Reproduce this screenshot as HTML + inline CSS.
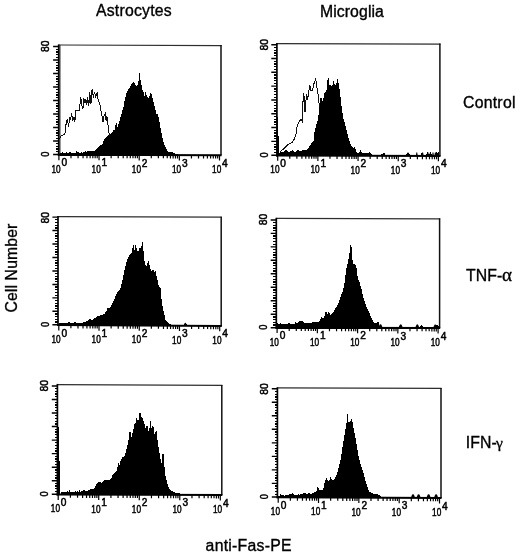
<!DOCTYPE html>
<html lang="en"><head><meta charset="utf-8"><title>Fas expression histograms</title>
<style>html,body{margin:0;padding:0;background:#fff}body{width:520px;height:555px;overflow:hidden}svg{display:block}</style>
</head><body>
<svg width="520" height="555" viewBox="0 0 520 555" font-family='"Liberation Sans", Arial, Helvetica, sans-serif' fill="#111">
<rect width="520" height="555" fill="#fff"/>
<path d="M60.0,155.6L60.0,152.8L64.0,153.0L68.0,152.5L72.0,153.2L76.0,152.6L80.0,153.0L84.0,152.4L85.0,151.9L89.3,151.2L94.7,150.6L98.0,148.1L99.6,145.4L102.3,144.3L103.9,140.0L106.6,137.3L108.2,135.1L110.9,133.5L113.1,130.8L115.3,129.2L115.6,123.2L116.5,123.2L116.7,128.1L118.0,125.9L119.6,120.5L121.8,113.0L123.9,105.4L124.4,101.2L126.2,93.8L128.1,89.4L130.6,86.2L132.5,82.5L133.8,81.9L135.0,84.4L136.9,86.9L138.1,82.5L139.0,78.8L139.5,72.5L140.2,78.8L141.2,83.8L142.2,88.8L143.5,91.9L144.4,96.2L145.6,91.9L146.9,96.2L148.8,97.8L150.2,93.8L151.2,91.9L151.9,95.6L153.1,100.0L154.4,105.0L155.6,110.6L156.9,115.0L157.8,113.1L158.8,118.8L160.0,125.0L161.0,130.5L162.7,139.3L164.5,144.7L166.4,149.2L168.2,151.9L172.7,152.3L175.4,153.7L178.0,154.0L178.0,155.6Z" fill="#000" stroke="none" stroke-width="0" stroke-linejoin="miter" shape-rendering="crispEdges"/>
<path d="M59.9,138.6L60.3,136.6L64.3,134.2L65.6,131.5L65.9,125.0L67.3,118.8L68.6,126.8L69.8,116.7L70.7,119.9L71.5,113.0L72.8,121.0L73.9,116.7L74.9,122.0L75.6,110.9L79.7,110.7L80.0,104.0L80.7,96.6L81.8,105.1L83.0,108.5L83.9,98.2L85.1,103.0L85.9,98.8L86.8,105.3L87.6,97.2L88.8,106.4L89.7,92.4L90.9,104.0L92.1,88.7L93.4,97.7L94.5,91.9L95.7,96.6L97.1,92.4L98.2,99.8L99.8,104.0L100.8,110.4L101.9,115.7L103.0,122.2L104.1,115.7L105.2,113.6L106.1,121.0L106.9,116.2L107.7,122.0L108.6,129.4L109.4,136.0" fill="none" stroke="#111" stroke-width="1.0" stroke-linejoin="miter" shape-rendering="crispEdges"/>
<path d="M59.95,45V154" stroke="#000" stroke-width="0.9" fill="none"/>
<path d="M277.0,156.2L277.0,155.0L277.0,117.0L278.0,117.0L278.9,150.0L278.9,155.0L278.9,156.2Z" fill="#000" stroke="none" stroke-width="0" stroke-linejoin="miter" shape-rendering="crispEdges"/>
<path d="M279.2,156.2L279.2,153.0L280.5,151.4L282.0,151.8L283.0,152.8L284.5,151.0L286.0,149.8L287.5,150.6L289.0,152.0L290.5,151.2L292.0,150.2L293.5,150.8L295.0,152.0L296.5,150.6L298.0,149.6L299.5,150.8L301.0,151.6L302.5,150.2L304.0,149.4L305.5,150.4L307.0,149.6L308.2,148.6L310.9,144.3L313.6,140.7L314.5,131.7L316.4,124.5L318.2,119.1L319.0,108.2L320.0,99.2L321.2,97.4L322.3,101.0L323.6,98.3L324.8,92.0L326.3,91.1L327.2,84.8L327.6,78.0L328.5,78.0L329.2,84.8L330.2,83.9L331.3,86.6L332.6,84.8L333.6,80.3L335.0,85.7L336.4,83.9L337.8,78.2L339.1,86.6L340.3,95.0L341.6,107.0L343.4,119.1L345.2,124.5L347.0,131.7L348.8,138.9L350.6,144.3L353.3,147.9L355.1,146.1L356.0,151.5L358.7,153.3L360.5,149.7L362.3,153.3L365.0,152.4L368.0,153.3L370.0,152.2L373.0,155.3L380.0,155.3L384.0,152.6L386.0,155.3L406.0,155.3L408.0,152.0L410.0,155.3L420.0,155.3L422.0,152.2L424.0,155.3L426.0,155.3L427.5,152.0L429.0,155.3L430.5,152.2L432.0,155.3L434.5,155.3L436.0,151.8L437.5,153.0L438.5,151.8L439.5,155.3L439.5,156.2Z" fill="#000" stroke="none" stroke-width="0" stroke-linejoin="miter" shape-rendering="crispEdges"/>
<path d="M280.3,151.5L284.8,147.9L288.4,144.3L292.5,142.0L294.6,138.6L296.0,134.0L297.2,125.5L299.8,120.8L301.2,119.5L302.2,121.3L302.7,114.4L303.0,101.7L303.7,92.7L304.6,101.7L305.0,111.8L305.6,102.8L306.7,94.1L307.5,99.8L308.6,92.7L309.8,84.8L310.7,90.6L312.5,90.3L313.9,83.8L315.7,79.3L316.7,85.9L317.8,92.2L318.8,100.7L319.4,107.0" fill="none" stroke="#111" stroke-width="1.0" stroke-linejoin="miter" shape-rendering="crispEdges"/>
<path d="M58.6,325.8L58.6,321.0L60.0,323.5L64.0,323.3L68.5,322.3L71.0,323.0L74.8,322.3L78.4,322.8L82.0,322.6L85.6,322.3L90.1,318.3L91.9,320.1L97.3,316.5L100.0,315.6L104.5,313.8L106.4,311.1L107.8,306.6L109.0,309.3L111.8,304.8L113.6,301.2L115.4,296.7L117.4,291.8L120.2,289.0L122.0,282.0L123.7,274.0L125.5,266.0L127.3,259.2L129.0,256.0L131.8,252.2L133.3,244.4L134.5,249.8L135.7,244.4L137.0,250.7L138.4,251.6L139.9,247.1L141.1,248.0L142.6,241.7L143.8,253.4L144.7,262.4L146.0,266.9L147.4,263.3L148.5,260.6L149.6,265.1L151.0,270.5L151.9,271.4L153.2,268.7L154.3,272.3L155.5,271.4L156.8,276.8L158.2,282.3L159.1,289.5L160.0,283.2L160.9,291.3L161.8,302.1L163.6,311.1L165.5,320.1L168.2,322.8L171.8,324.8L183.5,324.8L185.3,322.6L187.0,324.8L187.0,325.8Z" fill="#000" stroke="none" stroke-width="0" stroke-linejoin="miter" shape-rendering="crispEdges"/>
<path d="M277.2,328.5L277.2,323.3L280.0,324.4L284.0,323.8L288.0,324.5L292.0,324.0L297.0,323.3L299.7,321.1L302.4,320.6L304.2,323.3L308.7,322.9L313.2,322.4L319.5,321.5L321.4,317.0L323.2,318.8L325.0,314.3L325.9,310.7L327.3,314.3L328.6,311.6L330.4,315.2L333.0,313.0L334.9,309.4L337.6,305.3L339.4,300.4L341.2,294.5L343.0,290.9L344.6,283.0L345.9,271.0L347.5,263.8L349.3,254.8L350.2,245.0L351.4,245.0L352.0,254.8L352.9,263.8L355.2,264.5L356.3,266.0L356.6,269.2L357.8,278.2L359.6,282.7L361.5,289.1L363.4,298.1L365.2,303.5L366.4,307.1L368.2,310.7L370.0,314.3L371.8,318.8L373.6,322.4L376.4,323.3L378.2,321.5L380.0,327.2L386.3,327.2L393.5,327.2L399.0,327.2L400.7,324.6L402.5,327.2L420.0,327.2L421.5,324.8L423.0,327.2L435.0,327.2L437.0,324.4L439.0,327.2L439.0,328.5Z" fill="#000" stroke="none" stroke-width="0" stroke-linejoin="miter" shape-rendering="crispEdges"/>
<path d="M57.4,495.3L57.4,494.0L57.4,427.0L58.9,427.0L58.9,461.0L60.1,461.0L60.1,494.0L60.1,495.3Z" fill="#000" stroke="none" stroke-width="0" stroke-linejoin="miter" shape-rendering="crispEdges"/>
<path d="M60.5,495.3L60.5,491.9L65.0,492.3L70.0,491.7L75.0,492.2L80.0,491.8L83.8,490.1L87.4,491.0L91.0,489.2L94.6,488.3L96.4,483.8L99.1,482.0L101.8,482.9L104.5,480.2L109.0,480.2L111.8,477.5L112.7,473.9L115.4,472.6L116.8,470.0L117.5,467.5L117.8,463.1L119.0,463.1L119.4,465.0L120.6,461.2L122.5,457.5L124.4,456.2L125.6,452.5L126.9,447.5L128.1,442.5L129.0,436.2L129.4,431.9L130.6,432.5L131.5,436.9L132.5,433.1L133.8,427.5L134.4,423.8L135.6,422.5L136.1,418.1L137.2,418.1L137.8,422.5L138.8,418.8L139.5,412.5L140.8,412.5L141.2,417.5L142.2,416.2L143.1,420.0L144.4,423.8L145.6,428.8L146.2,426.2L147.5,426.2L147.9,431.2L149.4,430.0L149.8,421.2L151.0,421.2L151.2,428.8L152.5,426.2L153.5,426.9L154.0,433.8L155.2,435.0L155.6,430.6L156.8,430.6L157.2,437.5L158.1,445.0L159.4,452.5L160.6,460.0L161.9,463.8L162.2,453.8L163.8,453.8L164.0,463.8L165.0,470.0L165.5,475.7L167.3,482.9L169.0,488.3L171.8,491.0L175.4,492.8L180.0,493.0L180.0,495.3Z" fill="#000" stroke="none" stroke-width="0" stroke-linejoin="miter" shape-rendering="crispEdges"/>
<path d="M278.0,498.1L278.0,496.0L281.0,495.6L282.6,494.5L284.5,495.6L288.0,495.1L292.5,493.3L295.2,495.1L302.4,494.2L305.1,492.4L306.9,494.2L308.7,492.4L311.4,494.2L314.1,492.4L316.5,491.5L317.7,486.4L319.5,489.7L323.2,489.7L325.0,480.7L326.4,478.2L328.3,480.7L329.6,479.6L330.3,476.2L332.0,480.7L334.9,478.9L336.7,474.4L338.5,468.1L340.3,460.9L342.1,450.0L343.9,439.2L345.7,428.4L346.0,423.5L346.8,422.0L346.9,414.0L348.0,414.0L348.3,421.5L349.6,422.0L350.8,420.5L351.0,418.6L352.2,418.6L352.6,423.0L353.3,426.6L354.7,433.8L356.5,443.7L358.3,455.5L360.1,462.7L361.9,468.1L363.7,473.5L365.5,480.7L367.3,486.1L369.1,491.5L371.8,493.3L377.3,494.2L382.7,497.2L411.5,497.2L413.0,494.4L414.5,497.2L417.0,497.2L418.6,494.4L420.2,497.2L427.4,497.2L428.9,494.4L430.4,497.2L434.4,497.2L435.9,494.4L437.4,497.2L437.4,498.1Z" fill="#000" stroke="none" stroke-width="0" stroke-linejoin="miter" shape-rendering="crispEdges"/>
<path d="M61,153h1V155.5h-1zM62,152h1V155.5h-1zM63,153h1V155.5h-1zM64,153h1V155.5h-1zM65,153h1V155.5h-1zM66,152h1V155.5h-1zM67,153h1V155.5h-1zM68,153h1V155.5h-1zM69,152h1V155.5h-1zM70,152h1V155.5h-1zM71,153h1V155.5h-1zM72,153h1V155.5h-1zM73,153h1V155.5h-1zM74,153h1V155.5h-1zM75,153h1V155.5h-1zM76,151h1V155.5h-1zM77,152h1V155.5h-1zM78,152h1V155.5h-1zM79,153h1V155.5h-1zM80,153h1V155.5h-1zM81,152h1V155.5h-1zM82,153h1V155.5h-1zM83,152h1V155.5h-1zM84,153h1V155.5h-1zM85,151h1V155.5h-1zM86,152h1V155.5h-1zM87,151h1V155.5h-1zM88,153h1V155.5h-1zM89,152h1V155.5h-1zM90,151h1V155.5h-1zM91,153h1V155.5h-1zM92,153h1V155.5h-1zM93,153h1V155.5h-1zM94,153h1V155.5h-1zM95,152h1V155.5h-1z" fill="#000" shape-rendering="crispEdges"/>
<path d="M60,323h1V325.8h-1zM61,324h1V325.8h-1zM62,324h1V325.8h-1zM63,323h1V325.8h-1zM64,324h1V325.8h-1zM65,324h1V325.8h-1zM66,324h1V325.8h-1zM67,324h1V325.8h-1zM68,322h1V325.8h-1zM69,322h1V325.8h-1zM70,323h1V325.8h-1zM71,324h1V325.8h-1zM72,324h1V325.8h-1zM73,323h1V325.8h-1zM74,323h1V325.8h-1zM75,323h1V325.8h-1zM76,324h1V325.8h-1zM77,324h1V325.8h-1zM78,324h1V325.8h-1zM79,323h1V325.8h-1zM80,323h1V325.8h-1zM81,323h1V325.8h-1zM82,324h1V325.8h-1zM83,322h1V325.8h-1zM84,324h1V325.8h-1zM85,324h1V325.8h-1zM86,324h1V325.8h-1zM87,323h1V325.8h-1zM88,322h1V325.8h-1zM89,323h1V325.8h-1z" fill="#000" shape-rendering="crispEdges"/>
<path d="M278,325h1V328.4h-1zM279,324h1V328.4h-1zM280,323h1V328.4h-1zM281,325h1V328.4h-1zM282,325h1V328.4h-1zM283,324h1V328.4h-1zM284,324h1V328.4h-1zM285,325h1V328.4h-1zM286,325h1V328.4h-1zM287,324h1V328.4h-1zM288,323h1V328.4h-1zM289,323h1V328.4h-1zM290,324h1V328.4h-1zM291,324h1V328.4h-1zM292,325h1V328.4h-1zM293,325h1V328.4h-1zM294,325h1V328.4h-1zM295,322h1V328.4h-1zM296,324h1V328.4h-1zM297,324h1V328.4h-1zM298,323h1V328.4h-1zM299,325h1V328.4h-1zM300,324h1V328.4h-1zM301,324h1V328.4h-1zM302,325h1V328.4h-1zM303,324h1V328.4h-1zM304,324h1V328.4h-1zM305,325h1V328.4h-1zM306,323h1V328.4h-1zM307,325h1V328.4h-1zM308,324h1V328.4h-1zM309,324h1V328.4h-1zM310,323h1V328.4h-1zM311,325h1V328.4h-1zM312,324h1V328.4h-1zM313,325h1V328.4h-1zM314,325h1V328.4h-1zM315,322h1V328.4h-1zM316,323h1V328.4h-1zM317,324h1V328.4h-1zM318,325h1V328.4h-1zM319,324h1V328.4h-1zM320,323h1V328.4h-1z" fill="#000" shape-rendering="crispEdges"/>
<path d="M61,492h1V495.2h-1zM62,492h1V495.2h-1zM63,493h1V495.2h-1zM64,493h1V495.2h-1zM65,493h1V495.2h-1zM66,493h1V495.2h-1zM67,491h1V495.2h-1zM68,493h1V495.2h-1zM69,490h1V495.2h-1zM70,493h1V495.2h-1zM71,493h1V495.2h-1zM72,493h1V495.2h-1zM73,493h1V495.2h-1zM74,492h1V495.2h-1zM75,491h1V495.2h-1zM76,492h1V495.2h-1zM77,491h1V495.2h-1zM78,493h1V495.2h-1zM79,490h1V495.2h-1zM80,493h1V495.2h-1zM81,493h1V495.2h-1zM82,493h1V495.2h-1zM83,493h1V495.2h-1zM84,492h1V495.2h-1zM85,493h1V495.2h-1zM86,493h1V495.2h-1zM87,492h1V495.2h-1zM88,492h1V495.2h-1zM89,492h1V495.2h-1zM90,493h1V495.2h-1zM91,492h1V495.2h-1z" fill="#000" shape-rendering="crispEdges"/>
<path d="M279,496h1V498.0h-1zM280,494h1V498.0h-1zM281,496h1V498.0h-1zM282,496h1V498.0h-1zM283,496h1V498.0h-1zM284,496h1V498.0h-1zM285,495h1V498.0h-1zM286,495h1V498.0h-1zM287,496h1V498.0h-1zM288,496h1V498.0h-1zM289,495h1V498.0h-1zM290,494h1V498.0h-1zM291,496h1V498.0h-1zM292,495h1V498.0h-1zM293,494h1V498.0h-1zM294,496h1V498.0h-1zM295,496h1V498.0h-1zM296,496h1V498.0h-1zM297,495h1V498.0h-1zM298,494h1V498.0h-1zM299,496h1V498.0h-1zM300,495h1V498.0h-1zM301,496h1V498.0h-1zM302,495h1V498.0h-1zM303,496h1V498.0h-1zM304,494h1V498.0h-1zM305,496h1V498.0h-1zM306,496h1V498.0h-1zM307,496h1V498.0h-1zM308,495h1V498.0h-1zM309,495h1V498.0h-1zM310,495h1V498.0h-1zM311,495h1V498.0h-1zM312,496h1V498.0h-1zM313,495h1V498.0h-1zM314,495h1V498.0h-1zM315,496h1V498.0h-1zM316,494h1V498.0h-1z" fill="#000" shape-rendering="crispEdges"/>
<path d="M411.1,497.9L411.4,496.2L412.2,494.6L413.0,494.2L413.8,494.6L414.6,496.2L414.9,497.9zM416.7,497.9L417.0,496.2L417.8,494.6L418.6,494.2L419.4,494.6L420.2,496.2L420.5,497.9zM426.7,497.9L427.0,496.3L427.8,494.6L428.6,494.2L429.4,494.6L430.2,496.3L430.5,497.9zM434.2,498.0L434.5,496.3L435.3,494.6L436.1,494.3L436.9,494.6L437.7,496.3L438.0,498.0z" fill="#000"/>
<path d="M378.6,328.0L378.9,326.3L379.7,324.6L380.5,324.3L381.3,324.6L382.1,326.3L382.4,328.0zM398.8,328.0L399.1,326.3L399.9,324.7L400.7,324.3L401.5,324.7L402.3,326.3L402.6,328.0zM415.4,328.0L415.7,326.4L416.5,324.7L417.3,324.3L418.1,324.7L418.9,326.4L419.2,328.0zM433.4,328.1L433.7,326.4L434.5,324.8L435.3,324.4L436.1,324.8L436.9,326.4L437.2,328.1z" fill="#000"/>
<path d="M407.0,155.8L407.3,154.2L407.6,152.6L408.0,152.2L408.4,152.6L408.7,154.2L409.0,155.8zM415.8,155.8L416.1,154.2L416.4,152.6L416.8,152.2L417.2,152.6L417.5,154.2L417.8,155.8zM421.7,155.8L422.0,154.2L422.3,152.6L422.7,152.2L423.1,152.6L423.4,154.2L423.7,155.8zM427.0,155.9L427.3,154.2L427.6,152.6L428.0,152.3L428.4,152.6L428.7,154.2L429.0,155.9zM429.3,155.9L429.6,154.3L429.9,152.6L430.3,152.3L430.7,152.6L431.0,154.3L431.3,155.9zM432.0,155.9L432.3,154.3L432.6,152.6L433.0,152.3L433.4,152.6L433.7,154.3L434.0,155.9zM434.3,155.9L434.6,154.3L434.9,152.6L435.3,152.3L435.7,152.6L436.0,154.3L436.3,155.9zM435.8,155.9L436.1,154.3L436.4,152.7L436.8,152.3L437.2,152.7L437.5,154.3L437.8,155.9z" fill="#000"/>
<path d="M183.8,325.7L184.1,324.4L184.7,323.0L185.3,322.7L185.9,323.0L186.5,324.4L186.8,325.7z" fill="#000"/>
<path d="M55.8,151.80H58.7M55.8,149.10H58.7M55.8,146.40H58.7M55.8,143.70H58.7M55.8,138.30H58.7M55.8,135.60H58.7M55.8,132.90H58.7M55.8,130.20H58.7M55.8,124.80H58.7M55.8,122.10H58.7M55.8,119.40H58.7M55.8,116.70H58.7M55.8,111.30H58.7M55.8,108.60H58.7M55.8,105.90H58.7M55.8,103.20H58.7M55.8,97.80H58.7M55.8,95.10H58.7M55.8,92.40H58.7M55.8,89.70H58.7M55.8,84.30H58.7M55.8,81.60H58.7M55.8,78.90H58.7M55.8,76.20H58.7M55.8,70.80H58.7M55.8,68.10H58.7M55.8,65.40H58.7M55.8,62.70H58.7M55.8,57.30H58.7M55.8,54.60H58.7M55.8,51.90H58.7M55.8,49.20H58.7" stroke="#000" stroke-width="1.3" fill="none" shape-rendering="crispEdges"/>
<path d="M53.1,154.50H58.7M53.1,141.00H58.7M53.1,127.50H58.7M53.1,114.00H58.7M53.1,100.50H58.7M53.1,87.00H58.7M53.1,73.50H58.7M53.1,60.00H58.7M53.1,46.50H58.7" stroke="#000" stroke-width="1.45" fill="none"/>
<path d="M58.90,154.80v5.4M70.99,154.83v3.3M78.06,154.85v3.3M83.07,154.86v3.3M86.96,154.87v3.3M90.14,154.88v3.3M92.83,154.88v3.3M95.16,154.89v3.3M97.21,154.89v3.3M99.05,154.90v5.4M111.14,154.93v3.3M118.21,154.95v3.3M123.22,154.96v3.3M127.11,154.97v3.3M130.29,154.98v3.3M132.98,154.98v3.3M135.31,154.99v3.3M137.36,154.99v3.3M139.20,155.00v5.4M151.29,155.03v3.3M158.36,155.05v3.3M163.37,155.06v3.3M167.26,155.07v3.3M170.44,155.08v3.3M173.13,155.08v3.3M175.46,155.09v3.3M177.51,155.09v3.3M179.35,155.10v5.4M191.44,155.13v3.3M198.51,155.14v3.3M203.52,155.16v3.3M207.41,155.17v3.3M210.59,155.17v3.3M213.28,155.18v3.3M215.61,155.19v3.3M217.66,155.19v3.3M219.50,155.20v5.4" stroke="#000" stroke-width="1.2" fill="none"/>
<path d="M58.7,45.00L221.6,45.60" stroke="#2e2e2e" stroke-width="1.25" fill="none"/>
<path d="M221.0,45.10L221.0,155.20" stroke="#111" stroke-width="1.5" fill="none"/>
<path d="M58.7,44.40V155.80" stroke="#000" stroke-width="1.7" fill="none"/>
<path d="M57.9,154.80L221.6,155.20" stroke="#000" stroke-width="2.0" fill="none"/>
<text transform="translate(51.5,172.7) scale(0.75,1)" font-size="11" fill="#000" stroke="#000" stroke-width="0.5">10</text>
<text transform="translate(61.5,166.3) scale(0.97,1)" font-size="10.5" fill="#000" stroke="#000" stroke-width="0.5">0</text>
<text transform="translate(91.6,172.8) scale(0.75,1)" font-size="11" fill="#000" stroke="#000" stroke-width="0.5">10</text>
<text transform="translate(101.6,166.4) scale(0.97,1)" font-size="10.5" fill="#000" stroke="#000" stroke-width="0.5">1</text>
<text transform="translate(131.8,172.9) scale(0.75,1)" font-size="11" fill="#000" stroke="#000" stroke-width="0.5">10</text>
<text transform="translate(141.8,166.5) scale(0.97,1)" font-size="10.5" fill="#000" stroke="#000" stroke-width="0.5">2</text>
<text transform="translate(171.9,173.0) scale(0.75,1)" font-size="11" fill="#000" stroke="#000" stroke-width="0.5">10</text>
<text transform="translate(181.9,166.6) scale(0.97,1)" font-size="10.5" fill="#000" stroke="#000" stroke-width="0.5">3</text>
<text transform="translate(212.1,173.1) scale(0.75,1)" font-size="11" fill="#000" stroke="#000" stroke-width="0.5">10</text>
<text transform="translate(222.1,166.7) scale(0.97,1)" font-size="10.5" fill="#000" stroke="#000" stroke-width="0.5">4</text>
<text transform="translate(48.9,51.9) rotate(-90) scale(0.9,1)" font-size="11.5" fill="#000" stroke="#000" stroke-width="0.5">80</text>
<text transform="translate(48.9,156.8) rotate(-90) scale(0.85,1)" font-size="10.8" fill="#000" stroke="#000" stroke-width="0.5">0</text>
<path d="M274.0,152.44H276.9M274.0,149.67H276.9M274.0,146.91H276.9M274.0,144.15H276.9M274.0,138.62H276.9M274.0,135.86H276.9M274.0,133.10H276.9M274.0,130.34H276.9M274.0,124.81H276.9M274.0,122.05H276.9M274.0,119.29H276.9M274.0,116.52H276.9M274.0,111.00H276.9M274.0,108.24H276.9M274.0,105.47H276.9M274.0,102.71H276.9M274.0,97.19H276.9M274.0,94.42H276.9M274.0,91.66H276.9M274.0,88.90H276.9M274.0,83.38H276.9M274.0,80.61H276.9M274.0,77.85H276.9M274.0,75.09H276.9M274.0,69.56H276.9M274.0,66.80H276.9M274.0,64.04H276.9M274.0,61.27H276.9M274.0,55.75H276.9M274.0,52.99H276.9M274.0,50.22H276.9M274.0,47.46H276.9" stroke="#000" stroke-width="1.3" fill="none" shape-rendering="crispEdges"/>
<path d="M271.3,155.20H276.9M271.3,141.39H276.9M271.3,127.57H276.9M271.3,113.76H276.9M271.3,99.95H276.9M271.3,86.14H276.9M271.3,72.33H276.9M271.3,58.51H276.9M271.3,44.70H276.9" stroke="#000" stroke-width="1.45" fill="none"/>
<path d="M277.70,155.40v5.4M289.79,155.44v3.3M296.87,155.46v3.3M301.89,155.48v3.3M305.78,155.49v3.3M308.96,155.50v3.3M311.65,155.51v3.3M313.98,155.51v3.3M316.04,155.52v3.3M317.88,155.53v5.4M329.97,155.56v3.3M337.04,155.58v3.3M342.06,155.60v3.3M345.96,155.61v3.3M349.14,155.62v3.3M351.83,155.63v3.3M354.16,155.64v3.3M356.21,155.64v3.3M358.05,155.65v5.4M370.14,155.69v3.3M377.22,155.71v3.3M382.24,155.72v3.3M386.13,155.74v3.3M389.31,155.74v3.3M392.00,155.75v3.3M394.33,155.76v3.3M396.39,155.77v3.3M398.22,155.77v5.4M410.32,155.81v3.3M417.39,155.83v3.3M422.41,155.85v3.3M426.31,155.86v3.3M429.49,155.87v3.3M432.18,155.88v3.3M434.51,155.88v3.3M436.56,155.89v3.3M438.40,155.90v5.4" stroke="#000" stroke-width="1.2" fill="none"/>
<path d="M276.9,43.70L440.5,44.10" stroke="#2e2e2e" stroke-width="1.25" fill="none"/>
<path d="M439.9,43.60L439.9,155.90" stroke="#111" stroke-width="1.5" fill="none"/>
<path d="M276.9,43.10V156.40" stroke="#000" stroke-width="1.7" fill="none"/>
<path d="M276.1,155.40L440.5,155.90" stroke="#000" stroke-width="2.0" fill="none"/>
<text transform="translate(270.3,173.3) scale(0.75,1)" font-size="11" fill="#000" stroke="#000" stroke-width="0.5">10</text>
<text transform="translate(280.3,166.9) scale(0.97,1)" font-size="10.5" fill="#000" stroke="#000" stroke-width="0.5">0</text>
<text transform="translate(310.5,173.4) scale(0.75,1)" font-size="11" fill="#000" stroke="#000" stroke-width="0.5">10</text>
<text transform="translate(320.5,167.0) scale(0.97,1)" font-size="10.5" fill="#000" stroke="#000" stroke-width="0.5">1</text>
<text transform="translate(350.6,173.5) scale(0.75,1)" font-size="11" fill="#000" stroke="#000" stroke-width="0.5">10</text>
<text transform="translate(360.6,167.1) scale(0.97,1)" font-size="10.5" fill="#000" stroke="#000" stroke-width="0.5">2</text>
<text transform="translate(390.8,173.7) scale(0.75,1)" font-size="11" fill="#000" stroke="#000" stroke-width="0.5">10</text>
<text transform="translate(400.8,167.3) scale(0.97,1)" font-size="10.5" fill="#000" stroke="#000" stroke-width="0.5">3</text>
<text transform="translate(431.0,173.8) scale(0.75,1)" font-size="11" fill="#000" stroke="#000" stroke-width="0.5">10</text>
<text transform="translate(441.0,167.4) scale(0.97,1)" font-size="10.5" fill="#000" stroke="#000" stroke-width="0.5">4</text>
<text transform="translate(267.9,50.6) rotate(-90) scale(0.9,1)" font-size="11.5" fill="#000" stroke="#000" stroke-width="0.5">80</text>
<text transform="translate(267.9,157.4) rotate(-90) scale(0.85,1)" font-size="10.8" fill="#000" stroke="#000" stroke-width="0.5">0</text>
<path d="M55.1,322.11H58.0M55.1,319.42H58.0M55.1,316.72H58.0M55.1,314.03H58.0M55.1,308.64H58.0M55.1,305.95H58.0M55.1,303.26H58.0M55.1,300.57H58.0M55.1,295.18H58.0M55.1,292.49H58.0M55.1,289.80H58.0M55.1,287.11H58.0M55.1,281.72H58.0M55.1,279.03H58.0M55.1,276.34H58.0M55.1,273.64H58.0M55.1,268.26H58.0M55.1,265.56H58.0M55.1,262.87H58.0M55.1,260.18H58.0M55.1,254.80H58.0M55.1,252.10H58.0M55.1,249.41H58.0M55.1,246.72H58.0M55.1,241.33H58.0M55.1,238.64H58.0M55.1,235.95H58.0M55.1,233.25H58.0M55.1,227.87H58.0M55.1,225.18H58.0M55.1,222.49H58.0M55.1,219.79H58.0" stroke="#000" stroke-width="1.3" fill="none" shape-rendering="crispEdges"/>
<path d="M52.4,324.80H58.0M52.4,311.34H58.0M52.4,297.88H58.0M52.4,284.41H58.0M52.4,270.95H58.0M52.4,257.49H58.0M52.4,244.03H58.0M52.4,230.56H58.0M52.4,217.10H58.0" stroke="#000" stroke-width="1.45" fill="none"/>
<path d="M58.80,325.00v5.4M70.91,325.07v3.3M77.99,325.11v3.3M83.02,325.14v3.3M86.92,325.16v3.3M90.10,325.18v3.3M92.79,325.19v3.3M95.13,325.20v3.3M97.18,325.22v3.3M99.02,325.23v5.4M111.13,325.29v3.3M118.22,325.33v3.3M123.24,325.36v3.3M127.14,325.38v3.3M130.33,325.40v3.3M133.02,325.41v3.3M135.35,325.43v3.3M137.41,325.44v3.3M139.25,325.45v5.4M151.36,325.51v3.3M158.44,325.55v3.3M163.47,325.58v3.3M167.37,325.60v3.3M170.55,325.62v3.3M173.24,325.64v3.3M175.58,325.65v3.3M177.63,325.66v3.3M179.47,325.67v5.4M191.58,325.74v3.3M198.67,325.78v3.3M203.69,325.80v3.3M207.59,325.82v3.3M210.78,325.84v3.3M213.47,325.86v3.3M215.80,325.87v3.3M217.86,325.88v3.3M219.70,325.89v5.4" stroke="#000" stroke-width="1.2" fill="none"/>
<path d="M58.0,216.50L221.8,217.20" stroke="#2e2e2e" stroke-width="1.25" fill="none"/>
<path d="M221.2,216.70L221.2,325.90" stroke="#111" stroke-width="1.5" fill="none"/>
<path d="M58.0,215.90V326.00" stroke="#000" stroke-width="1.7" fill="none"/>
<path d="M57.2,325.00L221.8,325.90" stroke="#000" stroke-width="2.0" fill="none"/>
<text transform="translate(51.4,342.9) scale(0.75,1)" font-size="11" fill="#000" stroke="#000" stroke-width="0.5">10</text>
<text transform="translate(61.4,336.5) scale(0.97,1)" font-size="10.5" fill="#000" stroke="#000" stroke-width="0.5">0</text>
<text transform="translate(91.6,343.1) scale(0.75,1)" font-size="11" fill="#000" stroke="#000" stroke-width="0.5">10</text>
<text transform="translate(101.6,336.7) scale(0.97,1)" font-size="10.5" fill="#000" stroke="#000" stroke-width="0.5">1</text>
<text transform="translate(131.8,343.3) scale(0.75,1)" font-size="11" fill="#000" stroke="#000" stroke-width="0.5">10</text>
<text transform="translate(141.8,336.9) scale(0.97,1)" font-size="10.5" fill="#000" stroke="#000" stroke-width="0.5">2</text>
<text transform="translate(172.1,343.6) scale(0.75,1)" font-size="11" fill="#000" stroke="#000" stroke-width="0.5">10</text>
<text transform="translate(182.1,337.2) scale(0.97,1)" font-size="10.5" fill="#000" stroke="#000" stroke-width="0.5">3</text>
<text transform="translate(212.3,343.8) scale(0.75,1)" font-size="11" fill="#000" stroke="#000" stroke-width="0.5">10</text>
<text transform="translate(222.3,337.4) scale(0.97,1)" font-size="10.5" fill="#000" stroke="#000" stroke-width="0.5">4</text>
<text transform="translate(49.0,223.4) rotate(-90) scale(0.9,1)" font-size="11.5" fill="#000" stroke="#000" stroke-width="0.5">80</text>
<text transform="translate(49.0,327.0) rotate(-90) scale(0.85,1)" font-size="10.8" fill="#000" stroke="#000" stroke-width="0.5">0</text>
<path d="M273.4,325.00H276.3M273.4,322.31H276.3M273.4,319.62H276.3M273.4,316.92H276.3M273.4,311.53H276.3M273.4,308.83H276.3M273.4,306.14H276.3M273.4,303.44H276.3M273.4,298.06H276.3M273.4,295.36H276.3M273.4,292.67H276.3M273.4,289.97H276.3M273.4,284.58H276.3M273.4,281.88H276.3M273.4,279.19H276.3M273.4,276.50H276.3M273.4,271.11H276.3M273.4,268.41H276.3M273.4,265.72H276.3M273.4,263.02H276.3M273.4,257.63H276.3M273.4,254.94H276.3M273.4,252.24H276.3M273.4,249.55H276.3M273.4,244.16H276.3M273.4,241.46H276.3M273.4,238.77H276.3M273.4,236.07H276.3M273.4,230.68H276.3M273.4,227.99H276.3M273.4,225.29H276.3M273.4,222.60H276.3" stroke="#000" stroke-width="1.3" fill="none" shape-rendering="crispEdges"/>
<path d="M270.7,327.70H276.3M270.7,314.22H276.3M270.7,300.75H276.3M270.7,287.27H276.3M270.7,273.80H276.3M270.7,260.32H276.3M270.7,246.85H276.3M270.7,233.38H276.3M270.7,219.90H276.3" stroke="#000" stroke-width="1.45" fill="none"/>
<path d="M277.10,327.70v5.4M289.22,327.73v3.3M296.30,327.75v3.3M301.33,327.76v3.3M305.23,327.77v3.3M308.42,327.78v3.3M311.12,327.79v3.3M313.45,327.79v3.3M315.51,327.80v3.3M317.35,327.80v5.4M329.47,327.83v3.3M336.55,327.85v3.3M341.58,327.86v3.3M345.48,327.87v3.3M348.67,327.88v3.3M351.37,327.88v3.3M353.70,327.89v3.3M355.76,327.89v3.3M357.60,327.90v5.4M369.72,327.93v3.3M376.80,327.95v3.3M381.83,327.96v3.3M385.73,327.97v3.3M388.92,327.98v3.3M391.62,327.98v3.3M393.95,327.99v3.3M396.01,327.99v3.3M397.85,328.00v5.4M409.97,328.03v3.3M417.05,328.04v3.3M422.08,328.06v3.3M425.98,328.07v3.3M429.17,328.07v3.3M431.87,328.08v3.3M434.20,328.09v3.3M436.26,328.09v3.3M438.10,328.10v5.4" stroke="#000" stroke-width="1.2" fill="none"/>
<path d="M276.3,218.40L440.2,218.80" stroke="#2e2e2e" stroke-width="1.25" fill="none"/>
<path d="M439.6,218.30L439.6,328.10" stroke="#111" stroke-width="1.5" fill="none"/>
<path d="M276.3,217.80V328.70" stroke="#000" stroke-width="1.7" fill="none"/>
<path d="M275.5,327.70L440.2,328.10" stroke="#000" stroke-width="2.0" fill="none"/>
<text transform="translate(269.7,345.6) scale(0.75,1)" font-size="11" fill="#000" stroke="#000" stroke-width="0.5">10</text>
<text transform="translate(279.7,339.2) scale(0.97,1)" font-size="10.5" fill="#000" stroke="#000" stroke-width="0.5">0</text>
<text transform="translate(310.0,345.7) scale(0.75,1)" font-size="11" fill="#000" stroke="#000" stroke-width="0.5">10</text>
<text transform="translate(320.0,339.3) scale(0.97,1)" font-size="10.5" fill="#000" stroke="#000" stroke-width="0.5">1</text>
<text transform="translate(350.2,345.8) scale(0.75,1)" font-size="11" fill="#000" stroke="#000" stroke-width="0.5">10</text>
<text transform="translate(360.2,339.4) scale(0.97,1)" font-size="10.5" fill="#000" stroke="#000" stroke-width="0.5">2</text>
<text transform="translate(390.5,345.9) scale(0.75,1)" font-size="11" fill="#000" stroke="#000" stroke-width="0.5">10</text>
<text transform="translate(400.5,339.5) scale(0.97,1)" font-size="10.5" fill="#000" stroke="#000" stroke-width="0.5">3</text>
<text transform="translate(430.7,346.0) scale(0.75,1)" font-size="11" fill="#000" stroke="#000" stroke-width="0.5">10</text>
<text transform="translate(440.7,339.6) scale(0.97,1)" font-size="10.5" fill="#000" stroke="#000" stroke-width="0.5">4</text>
<text transform="translate(267.3,225.3) rotate(-90) scale(0.9,1)" font-size="11.5" fill="#000" stroke="#000" stroke-width="0.5">80</text>
<text transform="translate(267.3,329.7) rotate(-90) scale(0.85,1)" font-size="10.8" fill="#000" stroke="#000" stroke-width="0.5">0</text>
<path d="M54.5,491.50H57.4M54.5,488.79H57.4M54.5,486.08H57.4M54.5,483.38H57.4M54.5,477.97H57.4M54.5,475.26H57.4M54.5,472.56H57.4M54.5,469.86H57.4M54.5,464.44H57.4M54.5,461.74H57.4M54.5,459.03H57.4M54.5,456.33H57.4M54.5,450.92H57.4M54.5,448.21H57.4M54.5,445.51H57.4M54.5,442.81H57.4M54.5,437.39H57.4M54.5,434.69H57.4M54.5,431.99H57.4M54.5,429.28H57.4M54.5,423.87H57.4M54.5,421.16H57.4M54.5,418.46H57.4M54.5,415.75H57.4M54.5,410.35H57.4M54.5,407.64H57.4M54.5,404.94H57.4M54.5,402.23H57.4M54.5,396.82H57.4M54.5,394.12H57.4M54.5,391.41H57.4M54.5,388.70H57.4" stroke="#000" stroke-width="1.3" fill="none" shape-rendering="crispEdges"/>
<path d="M51.8,494.20H57.4M51.8,480.68H57.4M51.8,467.15H57.4M51.8,453.62H57.4M51.8,440.10H57.4M51.8,426.57H57.4M51.8,413.05H57.4M51.8,399.52H57.4M51.8,386.00H57.4" stroke="#000" stroke-width="1.45" fill="none"/>
<path d="M58.20,494.50v5.4M70.40,494.55v3.3M77.54,494.57v3.3M82.60,494.59v3.3M86.53,494.61v3.3M89.73,494.62v3.3M92.45,494.63v3.3M94.80,494.64v3.3M96.87,494.64v3.3M98.72,494.65v5.4M110.92,494.70v3.3M118.06,494.72v3.3M123.12,494.74v3.3M127.05,494.75v3.3M130.26,494.77v3.3M132.97,494.78v3.3M135.32,494.78v3.3M137.40,494.79v3.3M139.25,494.80v5.4M151.45,494.84v3.3M158.59,494.87v3.3M163.65,494.89v3.3M167.58,494.90v3.3M170.78,494.91v3.3M173.50,494.92v3.3M175.85,494.93v3.3M177.92,494.94v3.3M179.78,494.95v5.4M191.97,494.99v3.3M199.11,495.02v3.3M204.17,495.04v3.3M208.10,495.05v3.3M211.31,495.06v3.3M214.02,495.07v3.3M216.37,495.08v3.3M218.45,495.09v3.3M220.30,495.09v5.4" stroke="#000" stroke-width="1.2" fill="none"/>
<path d="M57.4,384.50L222.4,385.40" stroke="#2e2e2e" stroke-width="1.25" fill="none"/>
<path d="M221.8,384.90L221.8,495.10" stroke="#111" stroke-width="1.5" fill="none"/>
<path d="M57.4,383.90V495.50" stroke="#000" stroke-width="1.7" fill="none"/>
<path d="M56.6,494.50L222.4,495.10" stroke="#000" stroke-width="2.0" fill="none"/>
<text transform="translate(50.8,512.4) scale(0.75,1)" font-size="11" fill="#000" stroke="#000" stroke-width="0.5">10</text>
<text transform="translate(60.8,506.0) scale(0.97,1)" font-size="10.5" fill="#000" stroke="#000" stroke-width="0.5">0</text>
<text transform="translate(91.3,512.6) scale(0.75,1)" font-size="11" fill="#000" stroke="#000" stroke-width="0.5">10</text>
<text transform="translate(101.3,506.2) scale(0.97,1)" font-size="10.5" fill="#000" stroke="#000" stroke-width="0.5">1</text>
<text transform="translate(131.8,512.7) scale(0.75,1)" font-size="11" fill="#000" stroke="#000" stroke-width="0.5">10</text>
<text transform="translate(141.8,506.3) scale(0.97,1)" font-size="10.5" fill="#000" stroke="#000" stroke-width="0.5">2</text>
<text transform="translate(172.4,512.8) scale(0.75,1)" font-size="11" fill="#000" stroke="#000" stroke-width="0.5">10</text>
<text transform="translate(182.4,506.4) scale(0.97,1)" font-size="10.5" fill="#000" stroke="#000" stroke-width="0.5">3</text>
<text transform="translate(212.9,513.0) scale(0.75,1)" font-size="11" fill="#000" stroke="#000" stroke-width="0.5">10</text>
<text transform="translate(222.9,506.6) scale(0.97,1)" font-size="10.5" fill="#000" stroke="#000" stroke-width="0.5">4</text>
<text transform="translate(48.4,391.4) rotate(-90) scale(0.9,1)" font-size="11.5" fill="#000" stroke="#000" stroke-width="0.5">80</text>
<text transform="translate(48.4,496.5) rotate(-90) scale(0.85,1)" font-size="10.8" fill="#000" stroke="#000" stroke-width="0.5">0</text>
<path d="M274.5,494.20H277.4M274.5,491.50H277.4M274.5,488.79H277.4M274.5,486.09H277.4M274.5,480.69H277.4M274.5,477.98H277.4M274.5,475.28H277.4M274.5,472.58H277.4M274.5,467.17H277.4M274.5,464.47H277.4M274.5,461.77H277.4M274.5,459.06H277.4M274.5,453.66H277.4M274.5,450.96H277.4M274.5,448.25H277.4M274.5,445.55H277.4M274.5,440.15H277.4M274.5,437.44H277.4M274.5,434.74H277.4M274.5,432.04H277.4M274.5,426.63H277.4M274.5,423.93H277.4M274.5,421.23H277.4M274.5,418.53H277.4M274.5,413.12H277.4M274.5,410.42H277.4M274.5,407.72H277.4M274.5,405.01H277.4M274.5,399.61H277.4M274.5,396.91H277.4M274.5,394.21H277.4M274.5,391.50H277.4" stroke="#000" stroke-width="1.3" fill="none" shape-rendering="crispEdges"/>
<path d="M271.8,496.90H277.4M271.8,483.39H277.4M271.8,469.88H277.4M271.8,456.36H277.4M271.8,442.85H277.4M271.8,429.34H277.4M271.8,415.82H277.4M271.8,402.31H277.4M271.8,388.80H277.4" stroke="#000" stroke-width="1.45" fill="none"/>
<path d="M278.20,497.30v5.4M290.34,497.36v3.3M297.44,497.39v3.3M302.48,497.41v3.3M306.39,497.42v3.3M309.58,497.44v3.3M312.28,497.45v3.3M314.62,497.46v3.3M316.68,497.47v3.3M318.52,497.48v5.4M330.66,497.53v3.3M337.76,497.56v3.3M342.80,497.58v3.3M346.71,497.60v3.3M349.90,497.61v3.3M352.60,497.62v3.3M354.94,497.63v3.3M357.00,497.64v3.3M358.85,497.65v5.4M370.99,497.70v3.3M378.09,497.73v3.3M383.13,497.75v3.3M387.04,497.77v3.3M390.23,497.78v3.3M392.93,497.79v3.3M395.27,497.80v3.3M397.33,497.81v3.3M399.18,497.82v5.4M411.31,497.87v3.3M418.41,497.90v3.3M423.45,497.92v3.3M427.36,497.94v3.3M430.55,497.96v3.3M433.25,497.97v3.3M435.59,497.98v3.3M437.65,497.99v3.3M439.50,497.99v5.4" stroke="#000" stroke-width="1.2" fill="none"/>
<path d="M277.4,387.80L441.6,388.40" stroke="#2e2e2e" stroke-width="1.25" fill="none"/>
<path d="M441.0,387.90L441.0,498.00" stroke="#111" stroke-width="1.5" fill="none"/>
<path d="M277.4,387.20V498.30" stroke="#000" stroke-width="1.7" fill="none"/>
<path d="M276.6,497.30L441.6,498.00" stroke="#000" stroke-width="2.0" fill="none"/>
<text transform="translate(270.8,515.2) scale(0.75,1)" font-size="11" fill="#000" stroke="#000" stroke-width="0.5">10</text>
<text transform="translate(280.8,508.8) scale(0.97,1)" font-size="10.5" fill="#000" stroke="#000" stroke-width="0.5">0</text>
<text transform="translate(311.1,515.4) scale(0.75,1)" font-size="11" fill="#000" stroke="#000" stroke-width="0.5">10</text>
<text transform="translate(321.1,509.0) scale(0.97,1)" font-size="10.5" fill="#000" stroke="#000" stroke-width="0.5">1</text>
<text transform="translate(351.5,515.5) scale(0.75,1)" font-size="11" fill="#000" stroke="#000" stroke-width="0.5">10</text>
<text transform="translate(361.5,509.1) scale(0.97,1)" font-size="10.5" fill="#000" stroke="#000" stroke-width="0.5">2</text>
<text transform="translate(391.8,515.7) scale(0.75,1)" font-size="11" fill="#000" stroke="#000" stroke-width="0.5">10</text>
<text transform="translate(401.8,509.3) scale(0.97,1)" font-size="10.5" fill="#000" stroke="#000" stroke-width="0.5">3</text>
<text transform="translate(432.1,515.9) scale(0.75,1)" font-size="11" fill="#000" stroke="#000" stroke-width="0.5">10</text>
<text transform="translate(442.1,509.5) scale(0.97,1)" font-size="10.5" fill="#000" stroke="#000" stroke-width="0.5">4</text>
<text transform="translate(268.4,394.7) rotate(-90) scale(0.9,1)" font-size="11.5" fill="#000" stroke="#000" stroke-width="0.5">80</text>
<text transform="translate(268.4,499.3) rotate(-90) scale(0.85,1)" font-size="10.8" fill="#000" stroke="#000" stroke-width="0.5">0</text>
<text x="96.0" y="16.2" font-size="15.8" letter-spacing="0.22" fill="#000" stroke="#000" stroke-width="0.35">Astrocytes</text>
<text x="319.9" y="16.6" font-size="15.8" letter-spacing="0.1" fill="#000" stroke="#000" stroke-width="0.35">Microglia</text>
<text x="463.0" y="107.6" font-size="15.8" letter-spacing="0.25" fill="#000" stroke="#000" stroke-width="0.35">Control</text>
<text x="466" y="281.2" font-size="15.8" letter-spacing="0.1" fill="#000" stroke="#000" stroke-width="0.35">TNF-<tspan font-family='"Liberation Serif", "DejaVu Serif", serif' font-size="19" dx="-0.3">α</tspan></text>
<text x="465.8" y="448.0" font-size="15.8" letter-spacing="0.1" fill="#000" stroke="#000" stroke-width="0.35">IFN-<tspan font-family='"Liberation Serif", "DejaVu Serif", serif' font-size="15.5" dx="-0.9">γ</tspan></text>
<text x="205.6" y="550.8" font-size="15.8" letter-spacing="0.25" fill="#000" stroke="#000" stroke-width="0.35">anti-Fas-PE</text>
<text transform="translate(17.4,312.6) rotate(-90)" font-size="15.8" letter-spacing="0.12" fill="#000" stroke="#000" stroke-width="0.35">Cell Number</text>
</svg>
</body></html>
